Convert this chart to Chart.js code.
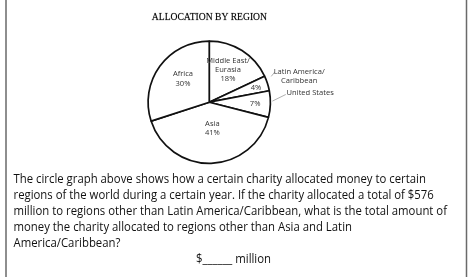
<!DOCTYPE html>
<html>
<head>
<meta charset="utf-8">
<script src="https://cdn.jsdelivr.net/npm/chart.js@4.4.0/dist/chart.umd.min.js"></script>
<style>
    html, body { margin: 0; padding: 0; background: #fff; }
    #wrap { position: relative; width: 474px; height: 277px; }
</style>
</head>
<body>
<div id="wrap"><canvas id="myChart" width="474" height="277"></canvas></div>
<script>

// Chart data

const chartTitle = 'ALLOCATION BY REGION';
const regions = ['Middle East/\nEurasia', 'Latin America/\nCaribbean', 'United States', 'Asia', 'Africa'];
const shares = [18, 4, 7, 41, 30];

// Question under the chart
const questionLines = [
    'The circle graph above shows how a certain charity allocated money to certain',
    'regions of the world during a certain year. If the charity allocated a total of $576',
    'million to regions other than Latin America/Caribbean, what is the total amount of',
    'money the charity allocated to regions other than Asia and Latin',
    'America/Caribbean?'
];
const answerLine = '$______ million';

// Label placement per slice (angle shift in degrees, radius as part of pie radius)
const labelPlace = [
    { da: -2.3, r: 0.61 },
    { da: 1, r: 0.8, outside: { da: -4.6, gap: 6, lead: [3.4, -4.3], text: [24.5, 4], align: 'center' } },
    { da: 0, r: 0.75, outside: { da: -2.8, gap: 2, lead: [13.4, -6.6], text: [0.8, -1.7], align: 'left' } },
    { da: -5, r: 0.43 },
    { da: 5.7, r: 0.575 }
];

const sansFont = '"Open Sans", "Noto Sans", sans-serif';
let squeeze = 1;

function squeezedText(ctx, text, x, y, align){
    ctx.save();
    ctx.translate(x, y);
    ctx.scale(squeeze, 1);
    ctx.textAlign = align;
    ctx.fillText(text, 0, 0);
    ctx.restore();
}

const pageText = {
    id: 'pageText',
    beforeDraw(chart){
        const ctx = chart.ctx;
        ctx.save();
        ctx.fillStyle = '#fff';
        ctx.fillRect(0, 0, chart.width, chart.height);
        // side rules of the box
        ctx.strokeStyle = '#6a6a6a';
        ctx.lineWidth = 1.5;
        ctx.beginPath();
        ctx.moveTo(6, 0); ctx.lineTo(6, chart.height);
        ctx.moveTo(466.5, 0); ctx.lineTo(466.5, chart.height);
        ctx.stroke();
        ctx.restore();
    },
    afterDraw(chart){
        const ctx = chart.ctx;
        ctx.save();

        // title
        ctx.font = '9.6px "Liberation Serif", serif';
        ctx.fillStyle = '#000';
        ctx.strokeStyle = 'rgba(0,0,0,0.35)';
        ctx.lineWidth = 0.4;
        ctx.textAlign = 'center';
        ctx.textBaseline = 'alphabetic';
        ctx.fillText(chartTitle, 209.4, 19.5);
        ctx.strokeText(chartTitle, 209.4, 19.5);

        // question text, condensed to Calibri-like width
        ctx.font = '12px ' + sansFont;
        squeeze = 433.5 / ctx.measureText(questionLines[2]).width;
        ctx.fillStyle = '#111';
        questionLines.forEach((line, i) => {
            squeezedText(ctx, line, 13.5, 183 + i * 15.9, 'left');
        });
        squeezedText(ctx, answerLine, 196, 263, 'left');

        // slice labels
        const meta = chart.getDatasetMeta(0);
        ctx.font = '8px ' + sansFont;
        ctx.textBaseline = 'middle';
        meta.data.forEach((arc, i) => {
            const p = labelPlace[i];
            const mid = (arc.startAngle + arc.endAngle) / 2;
            const R = arc.outerRadius;
            const a = mid + p.da * Math.PI / 180;
            const cx = arc.x + Math.cos(a) * R * p.r;
            const cy = arc.y + Math.sin(a) * R * p.r;
            const pct = shares[i] + '%';
            const names = regions[i].split('\n');

            ctx.fillStyle = '#333';
            if (p.outside) {
                squeezedText(ctx, pct, cx, cy, 'center');
                const o = p.outside;
                const b = mid + o.da * Math.PI / 180;
                const sx = arc.x + Math.cos(b) * (R + o.gap);
                const sy = arc.y + Math.sin(b) * (R + o.gap);
                const ex = sx + o.lead[0];
                const ey = sy + o.lead[1];
                ctx.strokeStyle = '#b0b0b0';
                ctx.lineWidth = 1;
                ctx.beginPath();
                ctx.moveTo(sx, sy); ctx.lineTo(ex, ey);
                ctx.stroke();
                const tx = ex + o.text[0];
                const ty = ey + o.text[1];
                names.forEach((n, k) => {
                    squeezedText(ctx, n, tx, ty + (k - (names.length - 1) / 2) * 9.5, o.align);
                });
            } else {
                const lines = names.concat([pct]);
                lines.forEach((n, k) => {
                    squeezedText(ctx, n, cx, cy + (k - (lines.length - 1) / 2) * 9.2, 'center');
                });
            }
        });

        ctx.restore();
    }
};

const ctx = document.getElementById('myChart');

const myChart = new Chart(ctx, {
    type: 'pie',
    data: {
        labels: regions,
        datasets: [{
            data: shares,
            backgroundColor: '#ffffff',
            borderColor: '#111111',
            borderWidth: 1.7
        }]
    },
    options: {
        responsive: false,
        animation: false,
        devicePixelRatio: 1,
        layout: {
            padding: { left: 147, right: 202.5, top: 40.2, bottom: 112.8 }
        },
        plugins: {
            legend: { display: false },
            tooltip: { enabled: false }
        }
    },
    plugins: [pageText]
});

</script>
</body>
</html>
